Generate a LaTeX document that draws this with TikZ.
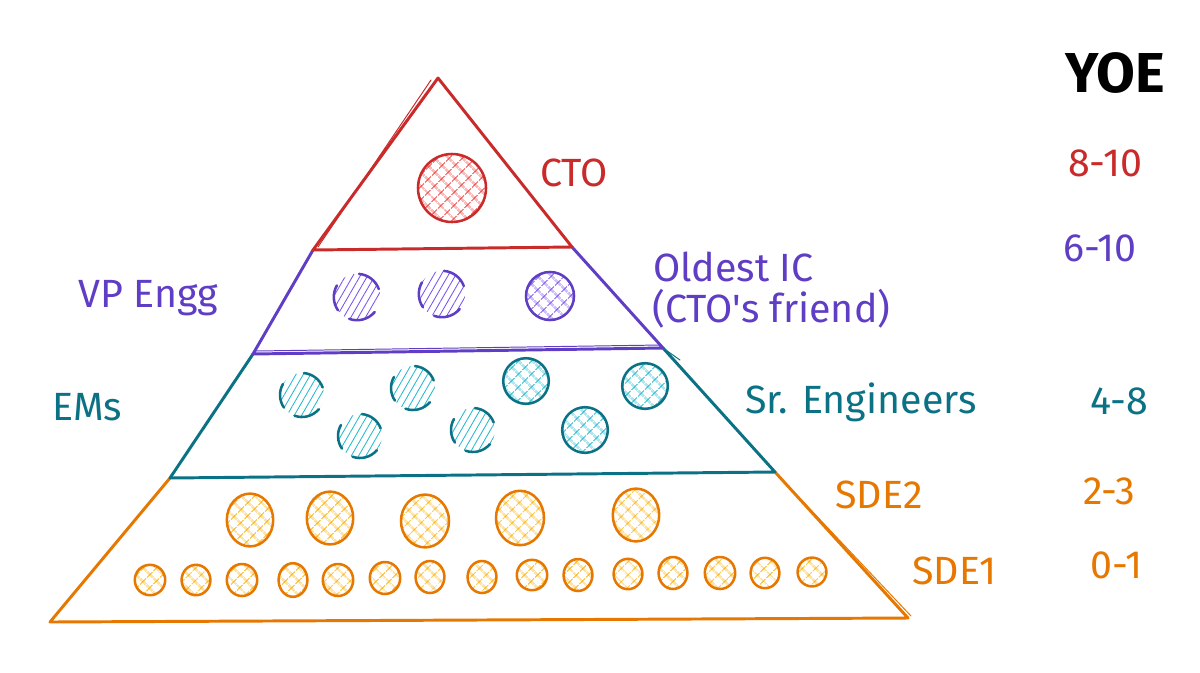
\documentclass[tikz,border=0pt]{standalone}
\usepackage{fontspec}
\setmainfont{Fira Sans}[Ligatures=TeXOff]
\usetikzlibrary{patterns.meta}

\definecolor{ctored}{HTML}{C92A2A}
\definecolor{ctohatch}{HTML}{F03E3E}
\definecolor{vpviolet}{HTML}{5F3DC4}
\definecolor{vphatch}{HTML}{7950F2}
\definecolor{emteal}{HTML}{0B7285}
\definecolor{emhatch}{HTML}{22B8CF}
\definecolor{sdeorange}{HTML}{E67700}
\definecolor{sdehatch}{HTML}{FAB005}

\begin{document}
\begin{tikzpicture}[x=0.025cm, y=-0.025cm, line join=round, line cap=round,
    tier/.style={line width=2.1pt},
    ring/.style={line width=1.8pt},
    label/.style={anchor=base west, inner sep=0pt, font=\fontsize{28}{32}\selectfont},
    crosshatch/.style={pattern={Hatch[angle=45,distance=6.5pt,line width=0.6pt]}, pattern color=#1},
    slanthatch/.style={pattern={Lines[angle=60,distance=4.5pt,line width=0.6pt]}, pattern color=#1}]

    \useasboundingbox (0,0) rectangle (1200,672);

    % Corners of the pyramid
    \coordinate (apex) at (438, 78);
    \coordinate (redL) at (313, 250);
    \coordinate (redR) at (572, 247);
    \coordinate (purL) at (253, 354);
    \coordinate (purR) at (663, 348);
    \coordinate (tealL) at (170, 478);
    \coordinate (tealR) at (775, 472);
    \coordinate (oraL) at (50, 622);
    \coordinate (oraR) at (908, 618);

    % Tiers, bottom first so the upper colour wins on shared edges
    \draw[tier, sdeorange] (tealL) -- (oraL) -- (oraR) -- (tealR);
    \draw[line width=0.7pt, sdeorange] (tealR) -- (911, 616);
    \draw[tier, emteal] (purL) -- (tealL) -- (tealR) -- (purR);
    \draw[line width=0.7pt, emteal] (purR) -- (680, 360);
    \draw[tier, vpviolet] (redL) -- (purL) -- (purR) -- (redR);
    \draw[line width=0.7pt, vpviolet] (256, 351) -- (661, 345);
    \draw[tier, ctored] (apex) -- (redL) -- (redR) -- cycle;
    \draw[line width=0.7pt, ctored] (431, 80) -- (318, 247);

    % CTO
    \coordinate (c1) at (452, 188);
    \filldraw[ring, ctored, crosshatch=ctohatch] (c1) circle (0.85cm);

    % VP Engg and oldest IC
    \coordinate (v1) at (357, 297);
    \coordinate (v2) at (442, 294);
    \coordinate (v3) at (550, 296);

    \fill[slanthatch=vphatch] (v1) circle (0.58cm);
    \draw[ring, vpviolet] (v1) ++(150:0.58cm) arc[start angle=150, end angle=215, radius=0.58cm]
        (v1) ++(20:0.58cm) arc[start angle=20, end angle=85, radius=0.58cm]
        (v1) ++(250:0.58cm) arc[start angle=250, end angle=320, radius=0.58cm];
    \fill[slanthatch=vphatch] (v2) circle (0.58cm);
    \draw[ring, vpviolet] (v2) ++(150:0.58cm) arc[start angle=150, end angle=215, radius=0.58cm]
        (v2) ++(20:0.58cm) arc[start angle=20, end angle=85, radius=0.58cm]
        (v2) ++(250:0.58cm) arc[start angle=250, end angle=320, radius=0.58cm];
    \filldraw[ring, vpviolet, crosshatch=vphatch] (v3) circle (0.6cm);

    % EMs and senior engineers
    \coordinate (e1) at (302, 395);
    \coordinate (e2) at (413, 388);
    \coordinate (e3) at (360, 436);
    \coordinate (e4) at (473, 430);
    \coordinate (s1) at (526, 381);
    \coordinate (s2) at (645, 386);
    \coordinate (s3) at (585, 430);

    \fill[slanthatch=emhatch] (e1) circle (0.55cm);
    \draw[ring, emteal] (e1) ++(150:0.55cm) arc[start angle=150, end angle=215, radius=0.55cm]
        (e1) ++(20:0.55cm) arc[start angle=20, end angle=85, radius=0.55cm]
        (e1) ++(250:0.55cm) arc[start angle=250, end angle=320, radius=0.55cm];
    \fill[slanthatch=emhatch] (e2) circle (0.55cm);
    \draw[ring, emteal] (e2) ++(150:0.55cm) arc[start angle=150, end angle=215, radius=0.55cm]
        (e2) ++(20:0.55cm) arc[start angle=20, end angle=85, radius=0.55cm]
        (e2) ++(250:0.55cm) arc[start angle=250, end angle=320, radius=0.55cm];
    \fill[slanthatch=emhatch] (e3) circle (0.55cm);
    \draw[ring, emteal] (e3) ++(150:0.55cm) arc[start angle=150, end angle=215, radius=0.55cm]
        (e3) ++(20:0.55cm) arc[start angle=20, end angle=85, radius=0.55cm]
        (e3) ++(250:0.55cm) arc[start angle=250, end angle=320, radius=0.55cm];
    \fill[slanthatch=emhatch] (e4) circle (0.55cm);
    \draw[ring, emteal] (e4) ++(150:0.55cm) arc[start angle=150, end angle=215, radius=0.55cm]
        (e4) ++(20:0.55cm) arc[start angle=20, end angle=85, radius=0.55cm]
        (e4) ++(250:0.55cm) arc[start angle=250, end angle=320, radius=0.55cm];

    \filldraw[ring, emteal, crosshatch=emhatch] (s1) circle (0.57cm);
    \filldraw[ring, emteal, crosshatch=emhatch] (s2) circle (0.57cm);
    \filldraw[ring, emteal, crosshatch=emhatch] (s3) circle (0.57cm);

    % SDE2
    \filldraw[ring, sdeorange, crosshatch=sdehatch] (250, 520) ellipse (0.58cm and 0.66cm);
    \filldraw[ring, sdeorange, crosshatch=sdehatch] (330, 518) ellipse (0.58cm and 0.66cm);
    \filldraw[ring, sdeorange, crosshatch=sdehatch] (425, 521) ellipse (0.6cm and 0.66cm);
    \filldraw[ring, sdeorange, crosshatch=sdehatch] (520, 518) ellipse (0.6cm and 0.68cm);
    \filldraw[ring, sdeorange, crosshatch=sdehatch] (636, 515) ellipse (0.58cm and 0.66cm);

    % SDE1
    \filldraw[ring, sdeorange, crosshatch=sdehatch] (150, 580) ellipse (0.38cm and 0.38cm);
    \filldraw[ring, sdeorange, crosshatch=sdehatch] (196, 580) ellipse (0.36cm and 0.38cm);
    \filldraw[ring, sdeorange, crosshatch=sdehatch] (242, 580) ellipse (0.38cm and 0.4cm);
    \filldraw[ring, sdeorange, crosshatch=sdehatch] (293, 580) ellipse (0.36cm and 0.42cm);
    \filldraw[ring, sdeorange, crosshatch=sdehatch] (338, 580) ellipse (0.38cm and 0.4cm);
    \filldraw[ring, sdeorange, crosshatch=sdehatch] (385, 578) ellipse (0.38cm and 0.4cm);
    \filldraw[ring, sdeorange, crosshatch=sdehatch] (430, 577) ellipse (0.36cm and 0.4cm);
    \filldraw[ring, sdeorange, crosshatch=sdehatch] (482, 577) ellipse (0.36cm and 0.4cm);
    \filldraw[ring, sdeorange, crosshatch=sdehatch] (532, 575) ellipse (0.38cm and 0.38cm);
    \filldraw[ring, sdeorange, crosshatch=sdehatch] (578, 575) ellipse (0.36cm and 0.4cm);
    \filldraw[ring, sdeorange, crosshatch=sdehatch] (628, 574) ellipse (0.36cm and 0.38cm);
    \filldraw[ring, sdeorange, crosshatch=sdehatch] (673, 573) ellipse (0.36cm and 0.4cm);
    \filldraw[ring, sdeorange, crosshatch=sdehatch] (720, 573) ellipse (0.38cm and 0.4cm);
    \filldraw[ring, sdeorange, crosshatch=sdehatch] (765, 573) ellipse (0.36cm and 0.38cm);
    \filldraw[ring, sdeorange, crosshatch=sdehatch] (812, 572) ellipse (0.36cm and 0.36cm);

    % Role labels
    \node[label, ctored] (cto) at (540, 186) {CTO};
    \node[label, vpviolet] (vpengg) at (78, 307) {VP Engg};
    \node[label, vpviolet] (oldestic) at (653, 281) {Oldest IC};
    \node[label, vpviolet] (ctofriend) at (652, 322) {(CTO's friend)};
    \node[label, emteal] (ems) at (52, 420) {EMs};
    \node[label, emteal] (srengg) at (745, 413) {Sr. Engineers};
    \node[label, sdeorange] (sdetwo) at (835, 508) {SDE2};
    \node[label, sdeorange] (sdeone) at (912, 584) {SDE1};

    % Years of experience
    \node[label, font=\fontsize{40}{44}\selectfont\bfseries] (yoe) at (1065, 92) {YOE};
    \node[label, ctored] (yoecto) at (1068, 176) {8-10};
    \node[label, vpviolet] (yoevp) at (1063, 261) {6-10};
    \node[label, emteal] (yoeem) at (1090, 414) {4-8};
    \node[label, sdeorange] (yoesdetwo) at (1083, 504) {2-3};
    \node[label, sdeorange] (yoesdeone) at (1090, 578) {0-1};

\end{tikzpicture}
\end{document}
